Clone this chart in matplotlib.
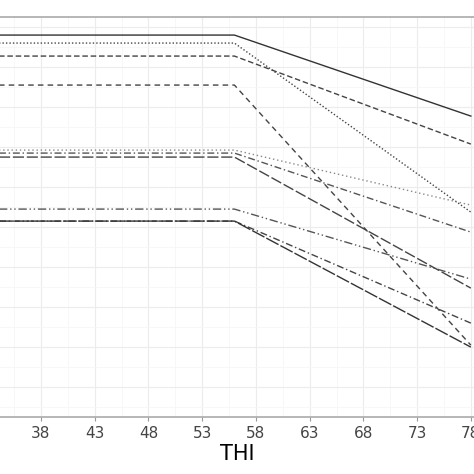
import matplotlib
matplotlib.use("Agg")
import matplotlib.pyplot as plt
import numpy as np

thi = [32, 56, 78]
# values in plot units (higher = lower on chart)
s_start = [35, 43, 56, 85, 150, 153, 157, 209, 221, 221]
s_end   = [116, 212, 144, 345, 205, 232, 288, 279, 323, 347]
styles = ['-', (0, (1, 1.5)), (0, (4, 2)), (0, (4, 3)), (0, (1, 2)),
          (0, (5, 2, 1, 2)), (0, (8, 2)), (0, (6, 2, 1, 2, 1, 2)), (0, (5, 2, 1, 2)), (0, (10, 1.5))]
colors = ['#333333', '#444444', '#444444', '#444444', '#888888',
          '#555555', '#444444', '#555555', '#444444', '#333333']

fig = plt.figure(figsize=(4.74, 4.74), dpi=100)
ax = fig.add_axes([-0.05, 0.12, 1.1, 0.844])
for a, b, ls, c in zip(s_start, s_end, styles, colors):
    ax.plot(thi, [a, a, b], linestyle=ls, color=c, lw=1.0)
ax.set_xlim(31.98, 80.5)
ax.set_ylim(417, 17)
ax.set_xticks([38, 43, 48, 53, 58, 63, 68, 73, 78])
ax.set_xticks(np.arange(35.5, 80, 5), minor=True)
ax.set_yticks(np.arange(27, 417, 40))
ax.set_yticks(np.arange(47, 417, 40), minor=True)
ax.set_yticklabels([])
ax.grid(which='major', color='#ececec', lw=0.8)
ax.grid(which='minor', color='#f6f6f6', lw=0.6)
ax.set_axisbelow(True)
ax.tick_params(axis='y', length=0, which='both')
ax.tick_params(axis='x', which='minor', length=0)
ax.tick_params(axis='x', which='major', length=3, color='#999999', labelsize=11, labelcolor='#444444')
for s in ax.spines.values():
    s.set_color('#aaaaaa')
    s.set_linewidth(1.2)
ax.set_xlabel('THI', fontsize=15, labelpad=2)
fig.savefig('out.png', dpi=100)
